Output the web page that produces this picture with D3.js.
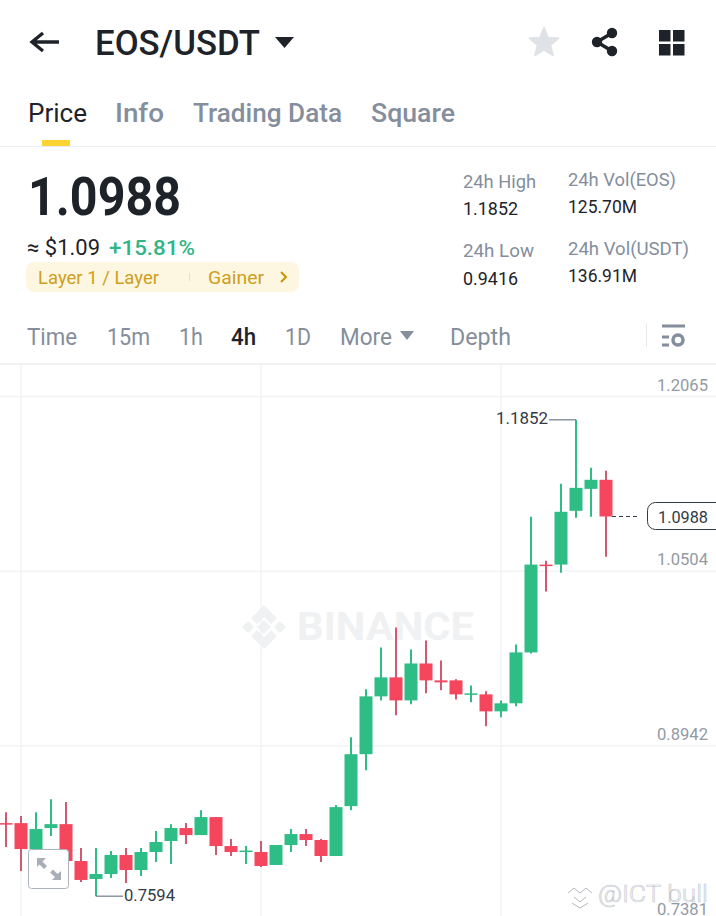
<!DOCTYPE html>
<html>
<head>
<meta charset="utf-8">
<style>
  html, body { margin: 0; padding: 0; background: #fff; }
  svg { display: block; }
  text { font-family: Roboto, sans-serif; }
</style>
<script src="https://cdn.jsdelivr.net/npm/d3@7/dist/d3.min.js"></script>
</head>
<body>
<div id="chart"></div>
<script>
// candles, oldest first (4h EOS/USDT)
const candleOpen = [0.8247,0.8247,0.8015,0.8203,0.8238,0.7908,0.7748,0.7792,0.7962,0.7828,0.7989,0.8087,0.8203,0.8140,0.8301,0.8042,0.7993,0.7989,0.7873,0.8051,0.8149,0.8096,0.7953,0.8399,0.8863,0.9380,0.9550,0.9344,0.9674,0.9523,0.9523,0.9398,0.9398,0.9246,0.9318,0.9773,1.0558,1.0558,1.1039,1.1235,1.1316];
const candleHigh = [0.8345,0.8310,0.8345,0.8461,0.8435,0.8024,0.8024,0.7997,0.8024,0.8024,0.8176,0.8238,0.8247,0.8363,0.8301,0.8105,0.8042,0.8087,0.8051,0.8194,0.8194,0.8105,0.8408,0.9014,0.9443,0.9817,0.9996,0.9799,0.9880,0.9701,0.9532,0.9478,0.9425,0.9344,0.9844,1.0986,1.0593,1.1280,1.1852,1.1423,1.1396];
const candleLow = [0.8033,0.7819,0.7971,0.8131,0.7882,0.7721,0.7594,0.7757,0.7712,0.7774,0.7899,0.7882,0.8060,0.8140,0.7962,0.7953,0.7882,0.7855,0.7873,0.7989,0.8042,0.7899,0.7953,0.8363,0.8720,0.9344,0.9211,0.9309,0.9407,0.9434,0.9353,0.9327,0.9112,0.9193,0.9291,0.9764,1.0317,1.0486,1.0977,1.0986,1.0629];
const candleClose = [0.8238,0.8015,0.8194,0.8238,0.7908,0.7739,0.7792,0.7962,0.7828,0.7989,0.8078,0.8203,0.8140,0.8301,0.8042,0.7989,0.8002,0.7864,0.8051,0.8149,0.8096,0.7953,0.8390,0.8863,0.9380,0.9550,0.9344,0.9674,0.9523,0.9505,0.9398,0.9407,0.9246,0.9318,0.9773,1.0558,1.0549,1.1030,1.1244,1.1316,1.0988];

const priceTicks = [1.2065, 1.0504, 0.8942, 0.7381];
const timeGridIndex = [1, 17, 33];
const maxIndex = 38, maxPrice = 1.1852;
const minIndex = 6, minPrice = 0.7594;
const lastPrice = 1.0988;

const tabLabels = ['Price', 'Info', 'Trading Data', 'Square'];
const intervalLabels = ['Time', '15m', '1h', '4h', '1D', 'More', 'Depth'];

const width = 716, height = 916;
const green = '#2ebd85', red = '#f6465d', ink = '#1e2329', grey = '#848e9c', axisGrey = '#929aa5';

const svg = d3.select('#chart').append('svg').attr('width', width).attr('height', height);

// text helper, textLength keeps the widths of the app font
function label(str, x, y, size, fill, len, weight, anchor) {
  const t = svg.append('text').attr('x', x).attr('y', y)
    .style('font-size', size + 'px').style('fill', fill)
    .style('font-weight', weight || 400)
    .attr('text-anchor', anchor || 'start')
    .text(str);
  if (len) t.attr('textLength', len).attr('lengthAdjust', 'spacingAndGlyphs');
  return t;
}

// ---- header
svg.append('path').attr('d', 'M59 42H33M43 33L32 42L43 51')
  .style('fill', 'none').style('stroke', ink).style('stroke-width', 3.4);
label('EOS/USDT', 95, 55, 35, ink, 165, 500);
svg.append('path').attr('d', 'M275 37H294L284.5 48Z').style('fill', ink);

const star = d3.range(10).map(i => {
  const r = i % 2 ? 6.6 : 15, a = -Math.PI / 2 + i * Math.PI / 5;
  return [544 + r * Math.cos(a), 43 + r * Math.sin(a)];
});
svg.append('path').attr('d', d3.line().curve(d3.curveLinearClosed)(star))
  .style('fill', '#dfe2e6').style('stroke', '#dfe2e6').style('stroke-width', 2).style('stroke-linejoin', 'round');

svg.append('path').attr('d', 'M612 33L597 42L612 51').style('fill', 'none').style('stroke', ink).style('stroke-width', 3.5);
[[612, 33], [597, 42], [612, 51]].forEach(c => {
  svg.append('circle').attr('cx', c[0]).attr('cy', c[1]).attr('r', 5.2).style('fill', ink);
});
[[659, 30], [673, 30], [659, 44], [673, 44]].forEach(c => {
  svg.append('rect').attr('x', c[0]).attr('y', c[1]).attr('width', 11.5).attr('height', 11.5).style('fill', ink);
});

// ---- tabs
const tabX = [28, 115, 193, 371], tabW = [59, 49, 149, 84];
tabLabels.forEach((d, i) => {
  label(d, tabX[i], 122, 26, i ? grey : ink, tabW[i], i ? 500 : 400);
});
svg.append('rect').attr('x', 42).attr('y', 140).attr('width', 28).attr('height', 6).style('fill', '#fcd535');
svg.append('rect').attr('x', 0).attr('y', 146).attr('width', width).attr('height', 1).style('fill', '#eaecef');

// ---- price block
label('1.0988', 28, 215, 54, ink, 153, 700);
label('≈ $1.09', 27, 255, 22, ink, 73, 400);
label('+15.81%', 109, 255, 21, '#31b585', 86, 500);
svg.append('rect').attr('x', 26).attr('y', 262).attr('width', 273).attr('height', 30).attr('rx', 8).style('fill', '#fdf6e1');
label('Layer 1 / Layer', 38, 284, 19, '#cf9f20', 121);
svg.append('rect').attr('x', 189).attr('y', 273).attr('width', 1).attr('height', 8).style('fill', '#eadfb8');
label('Gainer', 208, 284, 19, '#cf9f20', 56);
svg.append('path').attr('d', 'M281 272L286 277L281 282').style('fill', 'none').style('stroke', '#c99400').style('stroke-width', 2);

label('24h High', 463, 188, 19, grey, 73);
label('1.1852', 463, 215, 19, ink, 55);
label('24h Low', 463, 257, 19, grey, 71);
label('0.9416', 463, 285, 19, ink, 55);
label('24h Vol(EOS)', 568, 186, 19, grey, 108);
label('125.70M', 568, 213, 19, ink, 69);
label('24h Vol(USDT)', 568, 255, 19, grey, 121);
label('136.91M', 568, 282, 19, ink, 69);

// ---- interval row
const intervalX = [27, 107, 179, 231, 285, 340, 450], intervalW = [50, 43, 24, 25, 26, 52, 61];
intervalLabels.forEach((d, i) => {
  label(d, intervalX[i], 345, 24, d === '4h' ? ink : grey, intervalW[i], d === '4h' ? 500 : 400);
});
svg.append('path').attr('d', 'M400 331H414L407 340Z').style('fill', grey);
svg.append('rect').attr('x', 646).attr('y', 323).attr('width', 1).attr('height', 24).style('fill', '#e6e8ea');
svg.append('path').attr('d', 'M662 326H685M662 337H669M662 345H669')
  .style('fill', 'none').style('stroke', grey).style('stroke-width', 3);
svg.append('circle').attr('cx', 678).attr('cy', 340).attr('r', 5).style('fill', 'none').style('stroke', grey).style('stroke-width', 3.5);

// ---- chart
const x = d3.scaleLinear().domain([0, candleClose.length - 1]).range([6, 606]);
const y = d3.scaleLinear().domain([1.2065, 0.7381]).range([396, 920]);
const chartTop = 365;

svg.append('rect').attr('x', 0).attr('y', 363).attr('width', width).attr('height', 2).style('fill', '#f1f2f4');

svg.append('g').selectAll('line').data(timeGridIndex).join('line')
  .attr('x1', d => x(d)).attr('x2', d => x(d)).attr('y1', chartTop).attr('y2', height)
  .style('stroke', '#f2f3f5').style('stroke-width', 1.5);

const yAxis = svg.append('g').call(d3.axisRight(y).tickValues(priceTicks).tickSize(width).tickFormat(d3.format('.4f')));
yAxis.select('.domain').remove();
yAxis.selectAll('.tick line').style('stroke', '#f2f3f5').style('stroke-width', 1.5);
yAxis.selectAll('.tick text')
  .attr('x', 708).attr('dy', -6).attr('text-anchor', 'end')
  .style('font-size', '16px').style('fill', axisGrey).style('font-family', 'Roboto, sans-serif')
  .attr('textLength', 51).attr('lengthAdjust', 'spacingAndGlyphs');

// watermark sits under the candles
svg.append('path')
  .attr('d', 'M264 605L277 618L271 624L264 617L257 624L251 618ZM248 621L254 627L248 633L242 627ZM280 621L286 627L280 633L274 627ZM264 620L271 627L264 634L257 627ZM251 636L257 630L264 637L271 630L277 636L264 649Z')
  .style('fill', '#f0f1f2');
label('BINANCE', 297, 640, 38, '#f0f1f2', 177, 700);

const candles = svg.append('g').selectAll('g').data(candleClose.map((c, i) => i)).join('g');
const col = i => candleClose[i] >= candleOpen[i] ? green : red;
candles.append('line')
  .attr('x1', i => x(i)).attr('x2', i => x(i))
  .attr('y1', i => y(candleHigh[i])).attr('y2', i => y(candleLow[i]))
  .style('stroke', i => candleClose[i] >= candleOpen[i] ? green : '#cf5a72').style('stroke-width', 2);
candles.append('rect')
  .attr('x', i => x(i) - 6.5).attr('width', 13)
  .attr('y', i => y(Math.max(candleOpen[i], candleClose[i])))
  .attr('height', i => Math.max(1.5, Math.abs(y(candleOpen[i]) - y(candleClose[i]))))
  .style('fill', col);

// high / low callouts
svg.append('path').attr('d', `M${x(maxIndex)} ${y(maxPrice)}H549`).style('fill', 'none').style('stroke', '#707a8a').style('stroke-width', 1.2);
label(d3.format('.4f')(maxPrice), 548, y(maxPrice) + 4.5, 16, '#333b47', 52, 400, 'end');
svg.append('path').attr('d', `M${x(minIndex)} ${y(minPrice)}H123`).style('fill', 'none').style('stroke', '#707a8a').style('stroke-width', 1.2);
label(d3.format('.4f')(minPrice), 124, y(minPrice) + 5, 16, '#333b47', 51);

// last price
svg.append('line').attr('x1', 612).attr('x2', 640).attr('y1', y(lastPrice)).attr('y2', y(lastPrice))
  .style('stroke', '#333b47').style('stroke-width', 1).style('stroke-dasharray', '4,3');
svg.append('rect').attr('x', 647.5).attr('y', 502.5).attr('width', 80).attr('height', 27).attr('rx', 8)
  .style('fill', '#fff').style('stroke', '#333b47').style('stroke-width', 1);
label(d3.format('.4f')(lastPrice), 658, 523, 16, '#333b47', 50);

// expand button
svg.append('rect').attr('x', 28.5).attr('y', 849.5).attr('width', 40).attr('height', 39).attr('rx', 3)
  .style('fill', '#fff').style('stroke', '#aeb4bc').style('stroke-width', 1);
svg.append('path').attr('d', 'M37 858H46L42.5 861.5L47 866L44 869L39.5 864.5L37 867ZM61 880H52L55 877L50 872.5L53 869.5L57.5 874L61 871Z')
  .style('fill', '#a9afb8');

// repost mark, bottom right
svg.append('path').attr('d', 'M568 893L574 888L580 893L586 888L592 893M574 897L580 902L586 897M572 903L580 908L588 903')
  .style('fill', 'none').style('stroke', '#b4b8bf').style('stroke-width', 1);
label('@ICT bull', 598, 902, 23, '#fff', 110, 300)
  .style('stroke', '#c4c8cd').style('stroke-width', 0.6);
</script>
</body>
</html>
